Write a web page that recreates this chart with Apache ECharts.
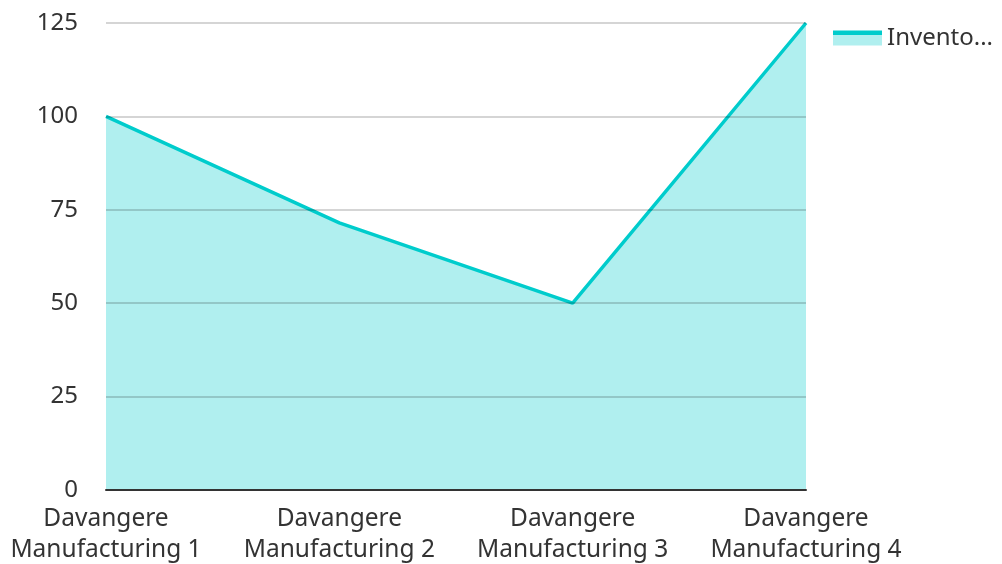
<!DOCTYPE html>
<html>
<head>
<meta charset="utf-8">
<script src="https://cdn.jsdelivr.net/npm/echarts@6/dist/echarts.min.js"></script>
<style>
  html, body { margin: 0; padding: 0; background: #fff; }
  #chart { width: 1002px; height: 564px; }
</style>
</head>
<body>
<div id="chart"></div>
<script>
// data
const categories = [
  "Davangere\nManufacturing 1",
  "Davangere\nManufacturing 2",
  "Davangere\nManufacturing 3",
  "Davangere\nManufacturing 4"
];
const inventory = [100, 71.5, 50, 125];
const seriesName = "Inventory";

const lineColor = "#00cccc";
const areaColor = "#b0efef";

const chart = echarts.init(document.getElementById("chart"));
const option = {
  animation: false,
  textStyle: { fontFamily: "Noto Sans" },
  grid: { left: 106, right: 196, top: 23, bottom: 74, outerBoundsMode: "none" },
  legend: {
    left: 828,
    top: 21,
    itemWidth: 49,
    itemHeight: 15,
    icon: "rect",
    textStyle: {
      fontSize: 24,
      color: "#333",
      width: 108,
      overflow: "truncate",
      padding: [0, 0, 12, 0]
    },
    data: [
      {
        name: seriesName,
        // legend swatch: thin line on top of the area colour
        itemStyle: {
          color: {
            type: "linear", x: 0, y: 0, x2: 0, y2: 1,
            colorStops: [
              { offset: 0, color: lineColor },
              { offset: 0.27, color: lineColor },
              { offset: 0.27, color: areaColor },
              { offset: 1, color: areaColor }
            ]
          },
          borderWidth: 0
        },
        lineStyle: { opacity: 0 }
      }
    ]
  },
  xAxis: {
    type: "category",
    boundaryGap: false,
    data: categories,
    z: 3,
    axisTick: { show: false },
    axisLine: { lineStyle: { color: "#333", width: 2 } },
    axisLabel: {
      color: "#333",
      fontSize: 24.5,
      lineHeight: 31,
      margin: 14,
      interval: 0
    },
    splitLine: { show: false }
  },
  yAxis: {
    type: "value",
    min: 0,
    max: 125,
    interval: 25,
    z: 1,
    axisLine: { show: false },
    axisTick: { show: false },
    axisLabel: { color: "#333", fontSize: 24, margin: 28 },
    // grid lines sit over the area, so they tint darker inside it
    splitLine: { lineStyle: { color: "rgba(0,0,0,0.22)", width: 1.5 } }
  },
  series: [
    {
      name: seriesName,
      type: "line",
      data: inventory,
      symbol: "none",
      z: 0,
      lineStyle: { color: lineColor, width: 3.5 },
      itemStyle: { color: lineColor },
      areaStyle: { color: areaColor, opacity: 1 }
    }
  ]
};
chart.setOption(option);
window.onresize = chart.resize;
</script>
</body>
</html>
